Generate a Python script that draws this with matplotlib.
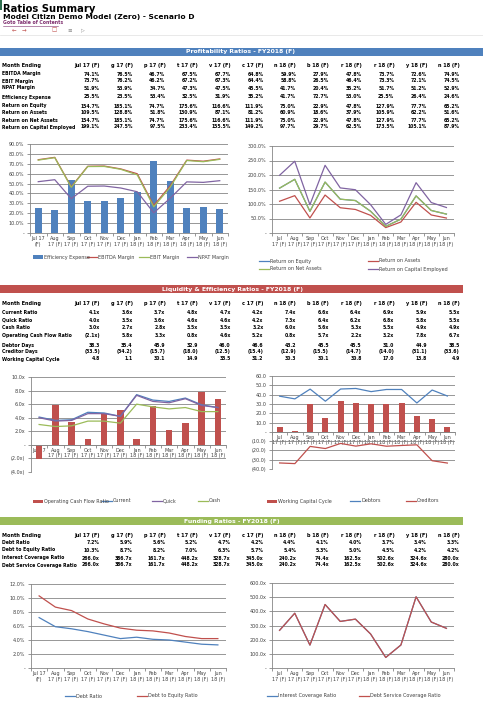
"""
Ratios Summary dashboard - profitability, liquidity and funding ratios
"""
import numpy as np
import matplotlib
matplotlib.use('Agg')
import matplotlib.pyplot as plt
from matplotlib.patches import Rectangle
from matplotlib.lines import Line2D

W, H = 483, 716

# --- data ---
col_heads = ['Jul 17 (F)', 'g 17 (F)', 'p 17 (F)', 't 17 (F)', 'v 17 (F)', 'c 17 (F)',
             'n 18 (F)', 'b 18 (F)', 'r 18 (F)', 'r 18 (F)', 'y 18 (F)', 'n 18 (F)']
months = ['Jul', 'Aug', 'Sep', 'Oct', 'Nov', 'Dec', 'Jan', 'Feb', 'Mar', 'Apr', 'May', 'Jun']
years = ['17'] * 6 + ['18'] * 6

ebitda_margin = [74.1, 76.5, 46.7, 67.5, 67.7, 64.8, 59.9, 27.9, 47.8, 73.7, 72.6, 74.9]
ebit_margin   = [73.7, 76.2, 46.2, 67.2, 67.3, 64.4, 58.8, 26.5, 46.4, 73.3, 72.1, 74.5]
npat_margin   = [51.9, 53.9, 34.7, 47.3, 47.5, 45.5, 41.7, 20.4, 35.2, 51.7, 51.2, 52.9]
eff_expense   = [25.5, 23.5, 53.4, 32.5, 31.9, 35.2, 41.7, 72.7, 53.0, 25.5, 26.4, 24.6]
roe  = [154.7, 185.1, 74.7, 175.6, 116.6, 111.9, 75.0, 22.9, 47.8, 127.9, 77.7, 65.2]
roa  = [109.5, 128.8, 51.8, 130.9, 87.1, 81.2, 60.9, 18.6, 37.9, 105.9, 62.2, 51.6]
rona = [154.7, 185.1, 74.7, 175.6, 116.6, 111.9, 75.0, 22.9, 47.8, 127.9, 77.7, 65.2]
roce = [199.1, 247.5, 97.5, 233.4, 155.5, 149.2, 97.7, 29.7, 62.5, 173.5, 105.1, 87.9]

current_ratio = [4.1, 3.6, 3.7, 4.8, 4.7, 4.2, 7.4, 6.6, 6.4, 6.9, 5.9, 5.5]
quick_ratio   = [4.0, 3.5, 3.6, 4.6, 4.6, 4.2, 7.3, 6.4, 6.2, 6.8, 5.8, 5.5]
cash_ratio    = [3.0, 2.7, 2.8, 3.5, 3.5, 3.2, 6.0, 5.6, 5.3, 5.5, 4.9, 4.9]
ocf_ratio     = [-2.1, 5.8, 3.3, 0.8, 4.6, 5.2, 0.8, 5.7, 2.2, 3.2, 7.8, 6.7]
debtor_days   = [38.3, 35.4, 45.9, 32.9, 46.0, 46.6, 43.2, 45.5, 45.5, 31.0, 44.9, 38.5]
creditor_days = [-33.5, -34.2, -15.7, -18.0, -12.5, -15.4, -12.9, -15.5, -14.7, -14.0, -31.1, -33.6]
wc_cycle      = [4.8, 1.1, 30.1, 14.9, 33.5, 31.2, 30.3, 30.1, 30.8, 17.0, 13.8, 4.9]

debt_ratio   = [7.2, 5.9, 5.6, 5.2, 4.7, 4.2, 4.4, 4.1, 4.0, 3.7, 3.4, 3.3]
debt_equity  = [10.3, 8.7, 8.2, 7.0, 6.3, 5.7, 5.4, 5.3, 5.0, 4.5, 4.2, 4.2]
interest_cov = [266.0, 386.7, 161.7, 448.2, 328.7, 345.0, 240.2, 74.4, 162.5, 502.6, 324.6, 280.0]
dscr         = [266.0, 386.7, 161.7, 448.2, 328.7, 345.0, 240.2, 74.4, 162.5, 502.6, 324.6, 280.0]

BLUE, RED, GREEN, PURPLE = '#4F81BD', '#C0504D', '#9BBB59', '#8064A2'
GRID = '#868686'
TXT = '#404040'

fig = plt.figure(figsize=(W / 100, H / 100), dpi=100)
fig.patch.set_facecolor('white')


def fy(y):
    return 1 - y / H


def ftext(x, y, s, **kw):
    kw.setdefault('va', 'center')
    fig.text(x / W, fy(y), s, **kw)


def frect(x0, y0, x1, y1, color):
    fig.add_artist(Rectangle((x0 / W, fy(y1)), (x1 - x0) / W, (y1 - y0) / H,
                             transform=fig.transFigure, color=color, lw=0))


def px_axes(x0, y0, x1, y1):
    return fig.add_axes([x0 / W, fy(y1), (x1 - x0) / W, (y1 - y0) / H])


# --- page header ---
frect(0, 0, 2, 10, '#2f6f4f')
ftext(3, 8.5, 'Ratios Summary', fontsize=7.2, weight='bold')
ftext(3, 17, 'Model Citizn Demo Model (Zero) - Scenario D', fontsize=5.4, weight='bold')
ftext(3, 23, 'Goto Table of Contents', fontsize=3.3, color='#7f2f6f', weight='bold')
fig.add_artist(Line2D([3 / W, 58 / W], [fy(25.5)] * 2, color='#7f2f6f', lw=0.4))
ftext(12, 29.5, '\u2190', fontsize=4, color='#c0504d')
ftext(22, 29.5, '\u2192', fontsize=4, color='#c0504d')
ftext(52, 29.5, '\u25a1', fontsize=4, color='#c0504d')
ftext(67, 29.5, '\u2261', fontsize=4, color='#808080')
ftext(81, 29.5, '\u25b7', fontsize=3.5, color='#808080')
fig.add_artist(Line2D([0, 1], [fy(35)] * 2, color='#e0e0e0', lw=0.5))


def section(y0, y1, x1, xc, color, title):
    frect(0, y0, x1, y1, color)
    ftext(xc, (y0 + y1) / 2, title, fontsize=4.4, weight='bold',
          color='white', ha='center')


VAL_X = [100 + 32.7 * i for i in range(12)]


def table(y_head, rows):
    ftext(2, y_head, 'Month Ending', fontsize=3.6, weight='bold')
    for x, h in zip(VAL_X, col_heads):
        ftext(x, y_head, h, fontsize=3.6, weight='bold', ha='right')
    for y, label, vals, fmt in rows:
        ftext(2, y, label, fontsize=3.3, weight='bold')
        for x, v in zip(VAL_X, vals):
            ftext(x, y, fmt(v), fontsize=3.3, weight='bold', ha='right')


def pct(v):
    return f'{v:.1f}%'


def times_x(v):
    return f'({-v:.1f}x)' if v < 0 else f'{v:.1f}x'


def num(v):
    return f'({-v:.1f})' if v < 0 else f'{v:.1f}'


def setup(ax, lo, hi, step, fmt, xlabels, zero_axis=False):
    ax.set_xlim(-0.5, 11.5)
    ax.set_ylim(lo, hi)
    ticks = np.arange(lo, hi + step / 2, step)
    ax.set_yticks(ticks)
    ax.set_yticklabels([fmt(t) for t in ticks])
    ax.yaxis.grid(True, color=GRID, lw=0.6)
    ax.set_axisbelow(True)
    for s in ('top', 'right'):
        ax.spines[s].set_visible(False)
    for s in ('left', 'bottom'):
        ax.spines[s].set_color(GRID)
        ax.spines[s].set_linewidth(0.6)
    ax.set_xticks(range(12))
    ax.set_xticklabels(xlabels, linespacing=1.25)
    ax.set_xticks(np.arange(-0.5, 12, 1), minor=True)
    ax.tick_params(axis='x', which='major', length=0, pad=2, labelsize=3.5, labelcolor=TXT)
    ax.tick_params(axis='x', which='minor', length=2, color=GRID, width=0.6)
    ax.tick_params(axis='y', length=2, pad=2, labelsize=3.5, labelcolor=TXT, color=GRID, width=0.6)
    if zero_axis:
        ax.spines['bottom'].set_position(('data', 0))
    ax.set_facecolor('none')


def leg_line(x, y, color, label):
    fig.add_artist(Line2D([x / W, (x + 10) / W], [fy(y)] * 2, color=color, lw=0.9))
    ftext(x + 11, y, label, fontsize=3.5, color=TXT)


def leg_bar(x, y, color, label):
    frect(x, y - 1.5, x + 10, y + 1.5, color)
    ftext(x + 11, y, label, fontsize=3.5, color=TXT)


lab_a = [f'{m} {y}\n(F)' if i == 0 else f'{m}\n{y} (F)' for i, (m, y) in enumerate(zip(months, years))]
lab_b = [f'{m}\n{y} (F)' for m, y in zip(months, years)]
x = np.arange(12)

# --- profitability ---
section(48, 56, W, 240, BLUE, 'Profitability Ratios - FY2018 (F)')
table(66, [(74, 'EBITDA Margin', ebitda_margin, pct),
           (81, 'EBIT Margin', ebit_margin, pct),
           (88, 'NPAT Margin', npat_margin, pct),
           (97, 'Efficiency Expense', eff_expense, pct),
           (106, 'Return on Equity', roe, pct),
           (113, 'Return on Assets', roa, pct),
           (120, 'Return on Net Assets', rona, pct),
           (127, 'Return on Capital Employed', roce, pct)])

ax1 = px_axes(30, 144, 228, 233)
setup(ax1, 0, 90, 10, lambda t: '-' if t == 0 else f'{t:.1f}%', lab_a)
ax1.bar(x, eff_expense, width=0.4, color=BLUE)
ax1.plot(x, ebitda_margin, color=RED, lw=0.9)
ax1.plot(x, ebit_margin, color=GREEN, lw=0.9)
ax1.plot(x, npat_margin, color=PURPLE, lw=0.9)
leg_bar(33, 257, BLUE, 'Efficiency Expense')
leg_line(87, 257, RED, 'EBITDA Margin')
leg_line(139, 257, GREEN, 'EBIT Margin')
leg_line(187, 257, PURPLE, 'NPAT Margin')

ax2 = px_axes(272, 146, 454, 233)
setup(ax2, 0, 300, 50, lambda t: '-' if t == 0 else f'{t:.1f}%', lab_b)
ax2.plot(x, roe, color=BLUE, lw=0.9)
ax2.plot(x, roa, color=RED, lw=0.9)
ax2.plot(x, rona, color=GREEN, lw=0.9)
ax2.plot(x, roce, color=PURPLE, lw=0.9)
leg_line(259, 261, BLUE, 'Return on Equity')
leg_line(368, 261, RED, 'Return on Assets')
leg_line(259, 269, GREEN, 'Return on Net Assets')
leg_line(368, 269, PURPLE, 'Return on Capital Employed')

# --- liquidity & efficiency ---
section(285, 293, 463, 232, RED, 'Liquidity & Efficiency Ratios - FY2018 (F)')
table(304, [(313, 'Current Ratio', current_ratio, times_x),
            (320, 'Quick Ratio', quick_ratio, times_x),
            (327, 'Cash Ratio', cash_ratio, times_x),
            (336, 'Operating Cash Flow Ratio', ocf_ratio, times_x),
            (345, 'Debtor Days', debtor_days, num),
            (352, 'Creditor Days', creditor_days, num),
            (359, 'Working Capital Cycle', wc_cycle, num)])


def fmt_x(t):
    if t == 0:
        return '-'
    return f'({-t:.1f}x)' if t < 0 else f'{t:.1f}x'


def fmt_n(t):
    if t == 0:
        return '-'
    return f'({-t:.1f})' if t < 0 else f'{t:.1f}'


ax3 = px_axes(31, 377, 226, 472)
setup(ax3, -4, 10, 2, fmt_x, lab_a, zero_axis=True)
ax3.bar(x, ocf_ratio, width=0.4, color=RED)
ax3.plot(x, current_ratio, color=BLUE, lw=0.9)
ax3.plot(x, quick_ratio, color=PURPLE, lw=0.9)
ax3.plot(x, cash_ratio, color=GREEN, lw=0.9)
leg_bar(33, 501, RED, 'Operating Cash Flow Ratio')
leg_line(102, 501, BLUE, 'Current')
leg_line(152, 501, PURPLE, 'Quick')
leg_line(198, 501, GREEN, 'Cash')

ax4 = px_axes(272, 376, 455, 469)
setup(ax4, -40, 60, 10, fmt_n, lab_b, zero_axis=True)
ax4.bar(x, wc_cycle, width=0.4, color=RED)
ax4.plot(x, debtor_days, color=BLUE, lw=0.9)
ax4.plot(x, creditor_days, color=RED, lw=0.9)
leg_bar(267, 501, RED, 'Working Capital Cycle')
leg_line(350, 501, BLUE, 'Debtors')
leg_line(406, 501, RED, 'Creditors')

# --- funding ---
section(517, 525, 463, 232, GREEN, 'Funding Ratios - FY2018 (F)')
table(535, [(543, 'Debt Ratio', debt_ratio, pct),
            (550, 'Debt to Equity Ratio', debt_equity, pct),
            (558, 'Interest Coverage Ratio', interest_cov, times_x),
            (565, 'Debt Service Coverage Ratio', dscr, times_x)])

ax5 = px_axes(31, 584, 226, 668)
setup(ax5, 0, 12, 2, lambda t: '-' if t == 0 else f'{t:.1f}%', lab_a)
ax5.plot(x, debt_ratio, color=BLUE, lw=0.9)
ax5.plot(x, debt_equity, color=RED, lw=0.9)
leg_line(65, 696, BLUE, 'Debt Ratio')
leg_line(137, 696, RED, 'Debt to Equity Ratio')

ax6 = px_axes(272, 583, 454, 668)
setup(ax6, 0, 600, 100, lambda t: '-' if t == 0 else f'{t:.1f}x', lab_b)
ax6.plot(x, interest_cov, color=BLUE, lw=0.9)
ax6.plot(x, dscr, color=RED, lw=0.9)
leg_line(267, 696, BLUE, 'Interest Coverage Ratio')
leg_line(359, 696, RED, 'Debt Service Coverage Ratio')

fig.savefig('out.png', dpi=100, facecolor='white')
